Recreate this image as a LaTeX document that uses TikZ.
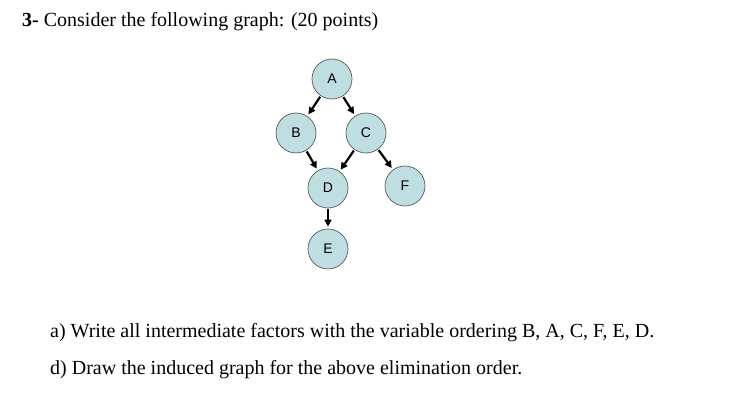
\documentclass[tikz,border=0pt]{standalone}
\usepackage{fontspec}
\setmainfont{Liberation Serif}
\newfontfamily\nodefont{Liberation Sans}
\usetikzlibrary{arrows.meta}
\begin{document}
\begin{tikzpicture}[x=1pt,y=-1pt,
  gnode/.style={circle,draw=gray!70!black,line width=0.7pt,fill={rgb,255:red,190;green,222;blue,226},minimum size=40pt,inner sep=0pt,font=\nodefont\fontsize{14}{16}\selectfont},
  edge/.style={-{Triangle[length=7pt,width=7pt]},line width=2.2pt,shorten >=2pt,shorten <=1pt},
  txt/.style={anchor=west,inner sep=0pt,font=\fontsize{20}{24}\selectfont}]
\useasboundingbox (0,0) rectangle (745,417);
\node[txt] (t) at (22,22) {\textbf{3-} Consider the following graph: (20 points)};
\node[gnode] (A) at (332,79) {A};
\node[gnode] (B) at (296,133) {B};
\node[gnode] (C) at (366,133) {C};
\node[gnode] (D) at (328,188) {D};
\node[gnode] (F) at (405,186) {F};
\node[gnode] (E) at (328,249) {E};
\draw[edge] (A) -- (B);
\draw[edge] (A) -- (C);
\draw[edge] (B) -- (D);
\draw[edge] (C) -- (D);
\draw[edge] (C) -- (F);
\draw[edge] (D) -- (E);
\node[txt] (qa) at (50,333) {a) Write all intermediate factors with the variable ordering B, A, C, F, E, D.};
\node[txt] (qd) at (50,370) {d) Draw the induced graph for the above elimination order.};
\end{tikzpicture}
\end{document}
